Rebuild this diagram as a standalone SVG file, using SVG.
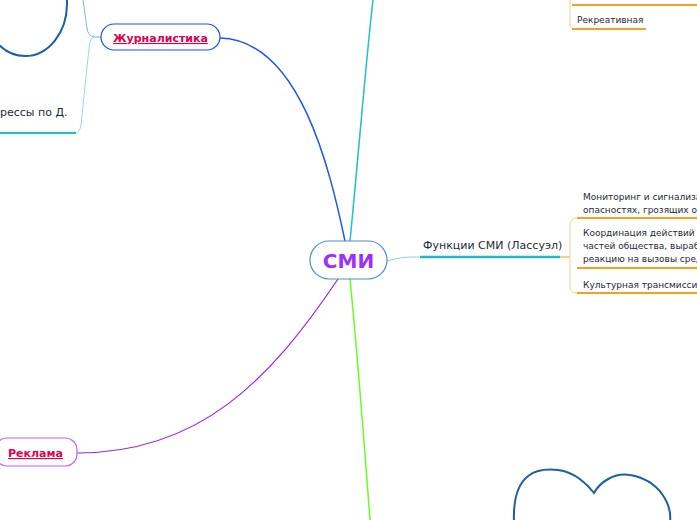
<svg xmlns="http://www.w3.org/2000/svg" width="697" height="520" viewBox="0 0 697 520">
<style>
.t{font-family:"DejaVu Sans","Noto Sans",sans-serif;fill:#1e2a38}
.s{font-size:9px}
.lnk{font-family:"DejaVu Sans",sans-serif;font-weight:bold;font-size:11px;fill:#e0004d;text-decoration:underline}
.or{stroke:#f5a020;stroke-width:2;fill:none}
.br{stroke:#fbd08a;stroke-width:1;fill:none}
.blob{stroke:#1a5fa8;stroke-width:2;fill:none}
</style>
<rect width="697" height="520" fill="#fff"/>
<g id="connectors" fill="none">
<path d="M345 241 C330 170 300 40 220 38" stroke="#2255ee" stroke-width="1.5"/>
<path d="M350 241 C358 160 366 60 373 0" stroke="#20c0c8" stroke-width="1.5"/>
<path d="M350 279 C358 360 364 440 370 520" stroke="#66ff22" stroke-width="1.5"/>
<path d="M338 279 C270 380 200 453 77 453" stroke="#a020f0" stroke-width="1.2"/>
<path d="M387 261 C400 257 410 257 420 257" stroke="#7dd8e0" stroke-width="1"/>
<path d="M420 257 L560 257" stroke="#20b8c8" stroke-width="2.5"/>
<path d="M560 257 L570 257" stroke="#f5a020" stroke-width="1"/>
<path d="M101 37 L94 37 Q88 36 87 28 L83 0" stroke="#8ab0f0" stroke-width="1"/>
<path d="M101 37 L94 37 Q90 38 89 48 L81 125 Q80 133 74 133" stroke="#8ae0e8" stroke-width="1"/>
<path d="M0 133 L76 133" stroke="#20c0d0" stroke-width="2"/>
<path d="M570 0 L570 24 Q570 29 575 29" class="br"/>
<path d="M572 5 L697 5" class="or"/>
<path d="M572 29 L646 29" class="or"/>
<path d="M577 218 Q570 218 570 225 L570 287 Q570 293 577 293" class="br"/>
<path d="M577 218 L697 218" class="or"/>
<path d="M577 268 L697 268" class="or"/>
<path d="M577 293 L697 293" class="or"/>
</g>
<g id="center">
<rect x="310" y="241" width="77" height="38" rx="19" fill="#fff" stroke="#4a90c8" stroke-width="1.2"/>
<text x="348.5" y="268" text-anchor="middle" font-family="DejaVu Sans,sans-serif" font-weight="bold" font-size="20" fill="#9b30ff">СМИ</text>
</g>
<g id="journalism">
<rect x="101" y="24" width="119" height="26" rx="13" fill="#fff" stroke="#1a4fff" stroke-width="1.2"/>
<text x="160.5" y="42" text-anchor="middle" class="lnk">Журналистика</text>
</g>
<g id="ads">
<rect x="-5" y="438" width="82" height="28" rx="12" fill="#fff" stroke="#c060ff" stroke-width="1.2"/>
<text x="35.5" y="457" text-anchor="middle" class="lnk">Реклама</text>
</g>
<g id="press"><text x="0" y="116" class="t" font-size="11">рессы по Д.</text></g>
<g id="functions"><text x="423" y="249" class="t" font-size="11" fill="#1a3a5a">Функции СМИ (Лассуэл)</text></g>
<g id="f1"><text class="t s" x="583" y="200">Мониторинг и сигнализация</text><text class="t s" x="583" y="213">опасностях, грозящих обществу</text></g>
<g id="f2"><text class="t s" x="583" y="236">Координация действий различных</text><text class="t s" x="583" y="249">частей общества, выработка</text><text class="t s" x="583" y="262">реакцию на вызовы среды</text></g>
<g id="f3"><text class="t s" x="583" y="288">Культурная трансмиссия</text></g>
<g id="f4"><text class="t s" x="577" y="23">Рекреативная</text></g>
<g id="shapes">
<ellipse cx="25" cy="4" rx="42" ry="52" class="blob"/>
<path d="M514 522 C512 470 540 468 558 470 C575 472 588 485 594 493 C600 482 615 472 630 475 C660 480 672 505 670 522" class="blob"/>
</g>
</svg>
